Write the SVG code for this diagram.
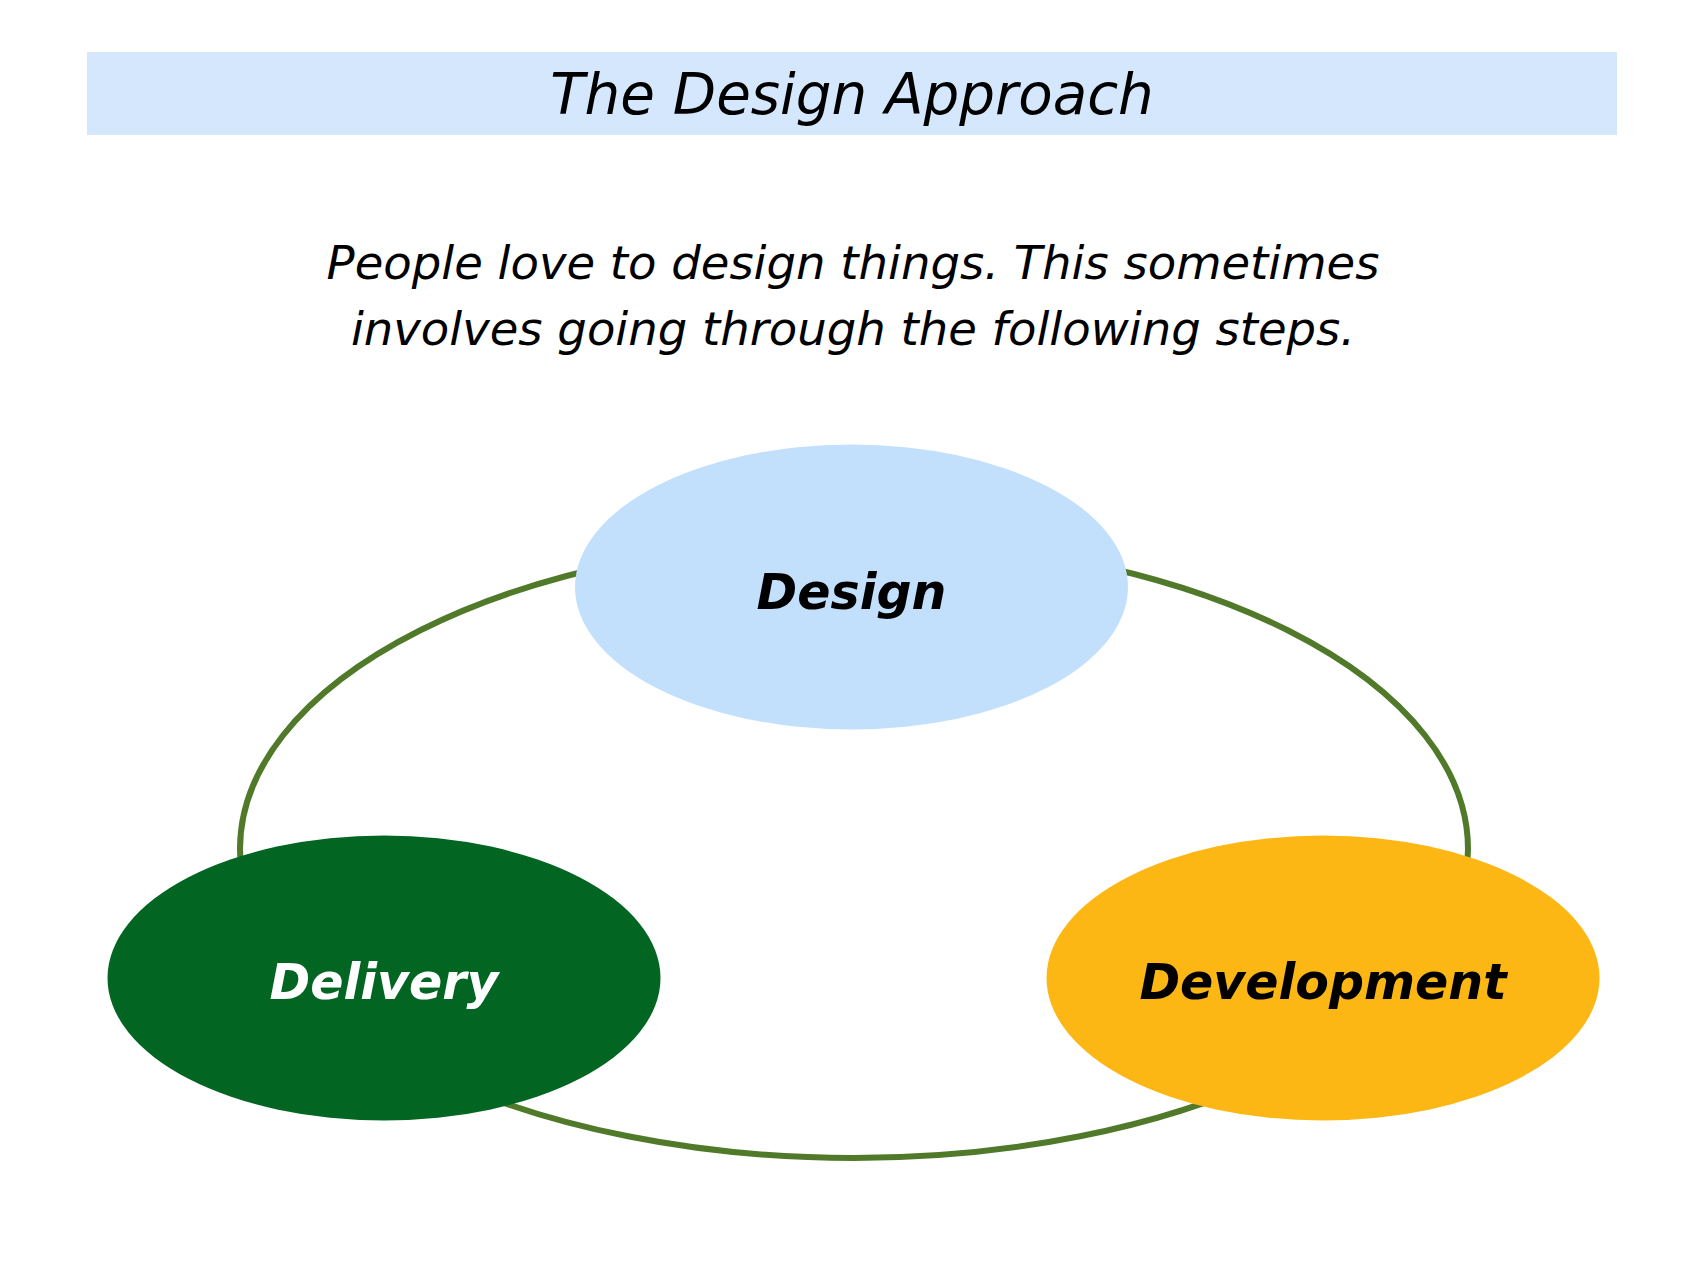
<svg xmlns="http://www.w3.org/2000/svg" width="1707" height="1280" viewBox="0 0 1707 1280">
  <style>
    .txt { font-family: "DejaVu Sans", Verdana, sans-serif; font-style: italic; text-anchor: middle; }
    .title { font-size: 56.3px; fill: #000; }
    .sub { font-size: 46.5px; fill: #000; }
    .lbl { font-size: 49px; font-weight: bold; }
    .ring { fill: none; stroke: #507a2a; stroke-width: 6; }
  </style>
  <rect width="1707" height="1280" fill="#ffffff"/>
  <g id="title">
    <rect x="87" y="52" width="1530" height="83" fill="#d4e7fd"/>
    <text class="txt title" x="852" y="114">The Design Approach</text>
  </g>
  <g id="subtitle">
    <text class="txt sub" x="853" y="279">People love to design things. This sometimes</text>
    <text class="txt sub" x="853" y="345">involves going through the following steps.</text>
  </g>
  <g id="connectors">
    <ellipse class="ring" cx="854" cy="849" rx="614" ry="309"/>
  </g>
  <g id="design">
    <ellipse cx="851.5" cy="587" rx="276.5" ry="142.5" fill="#c2e0fc"/>
    <text class="txt lbl" x="851.5" y="609" fill="#000000">Design</text>
  </g>
  <g id="delivery">
    <ellipse cx="384" cy="978" rx="276.5" ry="142.5" fill="#026622"/>
    <text class="txt lbl" x="384" y="999" fill="#ffffff">Delivery</text>
  </g>
  <g id="development">
    <ellipse cx="1323" cy="978" rx="276.5" ry="142.5" fill="#fdb714"/>
    <text class="txt lbl" x="1323" y="999" fill="#000000">Development</text>
  </g>
</svg>
